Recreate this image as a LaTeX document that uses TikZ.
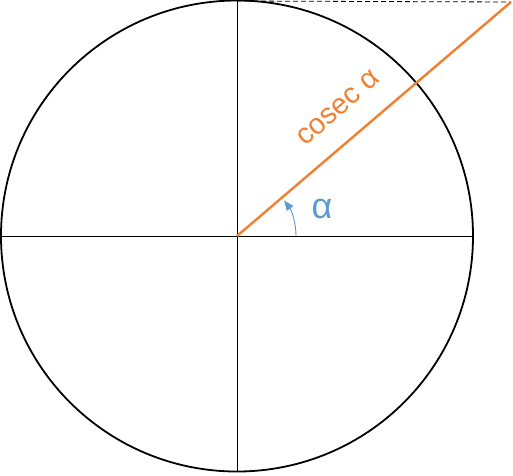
\documentclass[tikz,border=0pt]{standalone}
\usepackage{fontspec}
\setmainfont{Liberation Sans}
\usetikzlibrary{arrows.meta}
\definecolor{orng}{HTML}{F08030}
\definecolor{blu}{HTML}{5B9BD5}
\tikzset{
  axis/.style={black, line width=1pt},
  circ/.style={black, line width=1.8pt},
  cosecline/.style={orng, line width=2.4pt},
  guide/.style={black, line width=0.8pt, dash pattern=on 5pt off 3pt},
  anglearc/.style={blu, line width=0.9pt, -{Triangle[length=10pt,width=8pt]}},
  lbl/.style={inner sep=0pt, font=\fontsize{29}{29}\selectfont}
}
\begin{document}
\begin{tikzpicture}[x=1pt,y=-1pt]
\useasboundingbox (0,0) rectangle (513,475);
\coordinate (O) at (237,236);
\coordinate (L) at (1,236);
\coordinate (R) at (473,236);
\coordinate (T) at (237,1);
\coordinate (B) at (237,472);
\coordinate (P) at (511,2);
\draw[circ] (O) ellipse [x radius=236, y radius=235.5];
\draw[axis] (L) -- (R);
\draw[axis] (T) -- (B);
\draw[guide] (T) -- (P);
\draw[cosecline] (O) -- (P);
\draw[anglearc] (296,236) arc[start angle=0, end angle=-37, radius=59];
\node[lbl, text=blu, font=\fontsize{36}{36}\selectfont] (alpha) at (322,209) {α};
\node[lbl, text=orng, rotate=41] (cosec) at (338,108) {cosec α};
\end{tikzpicture}
\end{document}
